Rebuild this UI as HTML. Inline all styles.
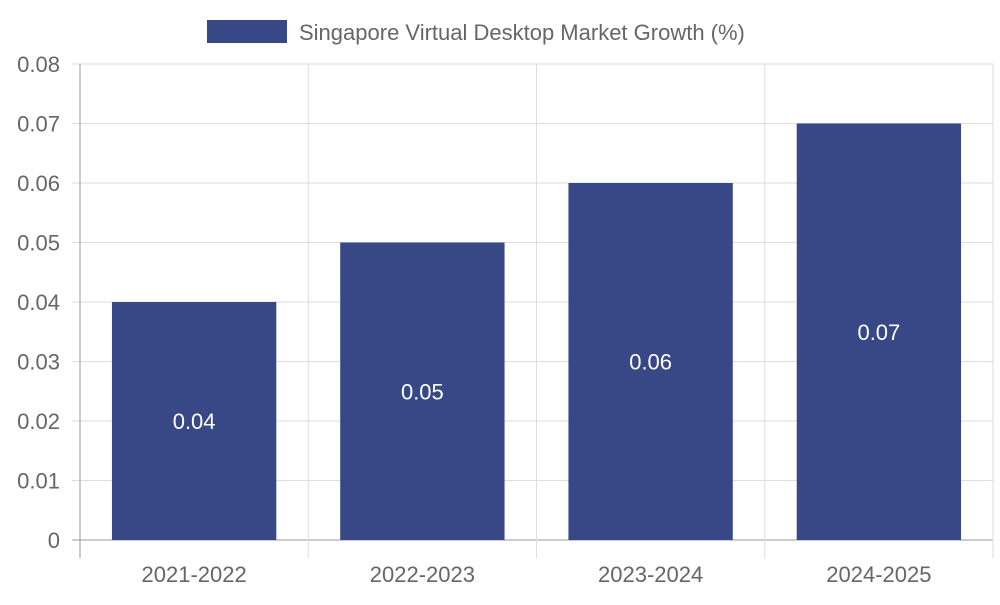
<!DOCTYPE html>
<html><head><meta charset="utf-8"><style>
body{margin:0;background:#fff;width:1000px;height:600px;overflow:hidden}
svg text{font-family:"Liberation Sans",sans-serif}
</style></head><body>
<svg id="chart" width="1000" height="600">
<g id="legend">
<rect x="207" y="20" width="80" height="23" fill="#384785"/>
<text x="299" y="40" font-size="22" fill="#666">Singapore Virtual Desktop Market Growth (%)</text>
</g>
<g id="grid"></g><g id="bars"></g><g id="axes"></g>
</svg>
<script>
const categories=["2021-2022","2022-2023","2023-2024","2024-2025"];
const values=[0.04,0.05,0.06,0.07];
const yTicks=[0,0.01,0.02,0.03,0.04,0.05,0.06,0.07,0.08];
const yTickLabels=["0","0.01","0.02","0.03","0.04","0.05","0.06","0.07","0.08"];
const NS="http://www.w3.org/2000/svg";
const L=80,R=993,T=64,B=540,yMax=0.08;
const y=v=>B-(v/yMax)*(B-T);
const bw=(R-L)/categories.length;
const x=i=>L+i*bw;
function mk(tag,attrs,parent,txt){const e=document.createElementNS(NS,tag);for(const k in attrs)e.setAttribute(k,attrs[k]);if(txt!==undefined)e.textContent=txt;document.getElementById(parent).appendChild(e);return e;}
yTicks.forEach((t,i)=>{
 const g=mk("line",{x1:72,x2:R,y1:y(t),y2:y(t),stroke:i===0?"#999":"#ddd","stroke-width":1},"grid");
 
 
 const lb=mk("text",{x:60,y:y(t)+8,"text-anchor":"end","font-size":22,fill:"#666"},"axes",yTickLabels[i]);
 
 
});
for(let i=0;i<=categories.length;i++){
 const g=mk("line",{x1:x(i),x2:x(i),y1:T,y2:558,stroke:i===0?"#999":"#ddd","stroke-width":1},"grid");
 
 
}
categories.forEach((c,i)=>{
 const w=bw*0.72,cx=x(i)+bw/2;
 const r=mk("rect",{x:cx-w/2,y:y(values[i]),width:w,height:B-y(values[i]),fill:"#384785"},"bars");
 
 
 const v=mk("text",{x:cx,y:(y(values[i])+B)/2+8,"text-anchor":"middle","font-size":22,fill:"#fff"},"bars",String(values[i]));
 
 
 const lb=mk("text",{x:cx,y:582,"text-anchor":"middle","font-size":22,fill:"#666"},"axes",c);
 
 
});
</script>
</body></html>
